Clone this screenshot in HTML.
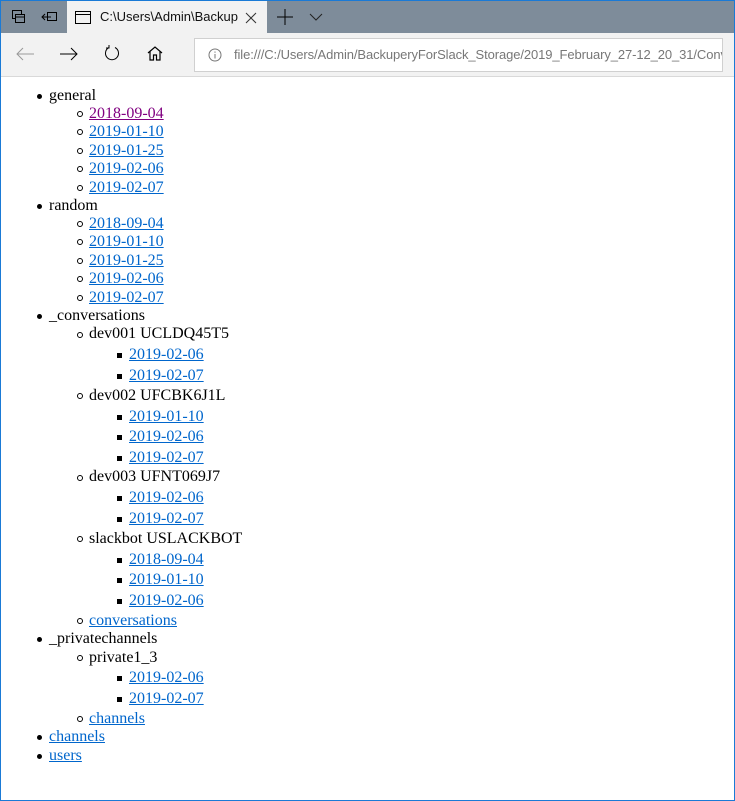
<!DOCTYPE html>
<html><head><meta charset="utf-8"><style>
*{margin:0;padding:0;box-sizing:border-box}
html,body{width:735px;height:801px;overflow:hidden;background:#fff}
#win{position:absolute;left:0;top:0;width:735px;height:801px;border:1px solid #1a7ad6}
#title{position:absolute;left:0;top:0;width:733px;height:32px;background:#7e8c9a}
#tab{position:absolute;left:66px;top:0;width:200px;height:33px;background:#f2f2f2;font:13px "Liberation Sans",sans-serif;color:#111}
#tool{position:absolute;left:0;top:32px;width:733px;height:44px;background:#f2f2f2;border-bottom:1px solid #d9d9d9}
#addr{position:absolute;left:193px;top:5px;width:529px;height:34px;background:#fff;border:1px solid #d0d0d0;font:13px "Liberation Sans",sans-serif;color:#777;white-space:nowrap;overflow:hidden;letter-spacing:-0.1px}
.l{position:absolute;font:16px/18px "Liberation Serif",serif;color:#000;white-space:nowrap}
.l a{color:#0066cc;text-decoration:underline}
.l a.v{color:#800080}
.b{position:absolute}
.d{width:5px;height:5px;border-radius:50%;background:#000}
.c{width:6px;height:6px;border-radius:50%;border:1px solid #000}
.s{width:5px;height:5px;background:#000}
</style></head><body><div id="win">
<div id="title">
<svg style="position:absolute;left:10px;top:8px" width="16" height="16" fill="none" stroke="#000" stroke-width="1"><rect x="1.5" y="1.5" width="9" height="8"/><rect x="4.5" y="5.5" width="9" height="8" fill="#7e8c9a"/><line x1="4.5" y1="8" x2="13.5" y2="8"/></svg>
<svg style="position:absolute;left:40px;top:8px" width="18" height="16" fill="none" stroke="#000" stroke-width="1"><rect x="6.5" y="3.5" width="9" height="8"/><line x1="1" y1="8" x2="10" y2="8"/><polyline points="4,5 1,8 4,11"/></svg>
</div>
<div id="tab">
<svg style="position:absolute;left:8px;top:10px" width="16" height="14" fill="none" stroke="#000"><rect x="0.5" y="0.5" width="15" height="12"/><line x1="0" y1="3.5" x2="16" y2="3.5"/></svg>
<span style="position:absolute;left:33px;top:8px">C:\Users\Admin\Backup</span>
<svg style="position:absolute;left:178px;top:11px" width="12" height="12" stroke="#333"><line x1="1" y1="1" x2="11" y2="11"/><line x1="11" y1="1" x2="1" y2="11"/></svg>
</div>
<svg style="position:absolute;left:276px;top:8px" width="16" height="16" stroke="#000"><line x1="8" y1="0" x2="8" y2="16"/><line x1="0" y1="8" x2="16" y2="8"/></svg>
<svg style="position:absolute;left:308px;top:12px" width="14" height="8" fill="none" stroke="#222"><polyline points="1,1 7,7 13,1"/></svg>
<div id="tool">
<svg style="position:absolute;left:15px;top:14px" width="18" height="14" fill="none" stroke="#999"><line x1="1" y1="7" x2="18" y2="7"/><polyline points="7,1 1,7 7,13"/></svg>
<svg style="position:absolute;left:59px;top:14px" width="18" height="14" fill="none" stroke="#000"><line x1="0" y1="7" x2="17" y2="7"/><polyline points="11,1 17,7 11,13"/></svg>
<svg style="position:absolute;left:103px;top:12px" width="16" height="16" fill="none" stroke="#000"><path d="M5 2.5 A6.5 6.5 0 1 0 11 2.5"/><polyline points="5,0 5,3 2,3"/></svg>
<svg style="position:absolute;left:146px;top:13px" width="16" height="15" fill="none" stroke="#000" stroke-width="1.2"><polyline points="1,7 8,1 15,7"/><polyline points="3,5.5 3,14 6.5,14 6.5,9 9.5,9 9.5,14 13,14 13,5.5"/></svg>
<div id="addr">
<svg style="position:absolute;left:13px;top:9px" width="14" height="14" fill="none" stroke="#777"><circle cx="7" cy="7" r="6"/><line x1="7" y1="6" x2="7" y2="10.5"/><line x1="7" y1="3.5" x2="7" y2="4.8"/></svg>
<span style="position:absolute;left:39px;top:8px">file:///C:/Users/Admin/BackuperyForSlack_Storage/2019_February_27-12_20_31/Conv</span>
</div>
</div>

<div class="b d" style="left:36px;top:93px"></div><div class="l" style="left:48px;top:86px">general</div>
<div class="b c" style="left:76px;top:110px"></div><div class="l" style="left:88px;top:104px"><a class="v">2018-09-04</a></div>
<div class="b c" style="left:76px;top:128px"></div><div class="l" style="left:88px;top:122px"><a>2019-01-10</a></div>
<div class="b c" style="left:76px;top:147px"></div><div class="l" style="left:88px;top:141px"><a>2019-01-25</a></div>
<div class="b c" style="left:76px;top:165px"></div><div class="l" style="left:88px;top:159px"><a>2019-02-06</a></div>
<div class="b c" style="left:76px;top:184px"></div><div class="l" style="left:88px;top:178px"><a>2019-02-07</a></div>

<div class="b d" style="left:36px;top:203px"></div><div class="l" style="left:48px;top:196px">random</div>
<div class="b c" style="left:76px;top:220px"></div><div class="l" style="left:88px;top:214px"><a>2018-09-04</a></div>
<div class="b c" style="left:76px;top:238px"></div><div class="l" style="left:88px;top:232px"><a>2019-01-10</a></div>
<div class="b c" style="left:76px;top:257px"></div><div class="l" style="left:88px;top:251px"><a>2019-01-25</a></div>
<div class="b c" style="left:76px;top:275px"></div><div class="l" style="left:88px;top:269px"><a>2019-02-06</a></div>
<div class="b c" style="left:76px;top:294px"></div><div class="l" style="left:88px;top:288px"><a>2019-02-07</a></div>

<div class="b d" style="left:36px;top:313px"></div><div class="l" style="left:48px;top:306px">_conversations</div>
<div class="b c" style="left:76px;top:331px"></div><div class="l" style="left:88px;top:324px">dev001 UCLDQ45T5</div>
<div class="b s" style="left:116px;top:352px"></div><div class="l" style="left:128px;top:345px"><a>2019-02-06</a></div>
<div class="b s" style="left:116px;top:373px"></div><div class="l" style="left:128px;top:366px"><a>2019-02-07</a></div>
<div class="b c" style="left:76px;top:392px"></div><div class="l" style="left:88px;top:386px">dev002 UFCBK6J1L</div>
<div class="b s" style="left:116px;top:414px"></div><div class="l" style="left:128px;top:407px"><a>2019-01-10</a></div>
<div class="b s" style="left:116px;top:434px"></div><div class="l" style="left:128px;top:427px"><a>2019-02-06</a></div>
<div class="b s" style="left:116px;top:455px"></div><div class="l" style="left:128px;top:448px"><a>2019-02-07</a></div>
<div class="b c" style="left:76px;top:474px"></div><div class="l" style="left:88px;top:467px">dev003 UFNT069J7</div>
<div class="b s" style="left:116px;top:495px"></div><div class="l" style="left:128px;top:488px"><a>2019-02-06</a></div>
<div class="b s" style="left:116px;top:516px"></div><div class="l" style="left:128px;top:509px"><a>2019-02-07</a></div>
<div class="b c" style="left:76px;top:535px"></div><div class="l" style="left:88px;top:529px">slackbot USLACKBOT</div>
<div class="b s" style="left:116px;top:557px"></div><div class="l" style="left:128px;top:550px"><a>2018-09-04</a></div>
<div class="b s" style="left:116px;top:577px"></div><div class="l" style="left:128px;top:570px"><a>2019-01-10</a></div>
<div class="b s" style="left:116px;top:598px"></div><div class="l" style="left:128px;top:591px"><a>2019-02-06</a></div>
<div class="b c" style="left:76px;top:617px"></div><div class="l" style="left:88px;top:611px"><a>conversations</a></div>

<div class="b d" style="left:36px;top:636px"></div><div class="l" style="left:48px;top:629px">_privatechannels</div>
<div class="b c" style="left:76px;top:654px"></div><div class="l" style="left:88px;top:648px">private1_3</div>
<div class="b s" style="left:116px;top:675px"></div><div class="l" style="left:128px;top:668px"><a>2019-02-06</a></div>
<div class="b s" style="left:116px;top:696px"></div><div class="l" style="left:128px;top:689px"><a>2019-02-07</a></div>
<div class="b c" style="left:76px;top:715px"></div><div class="l" style="left:88px;top:709px"><a>channels</a></div>
<div class="b d" style="left:36px;top:734px"></div><div class="l" style="left:48px;top:727px"><a>channels</a></div>
<div class="b d" style="left:36px;top:753px"></div><div class="l" style="left:48px;top:746px"><a>users</a></div>
</div></body></html>
